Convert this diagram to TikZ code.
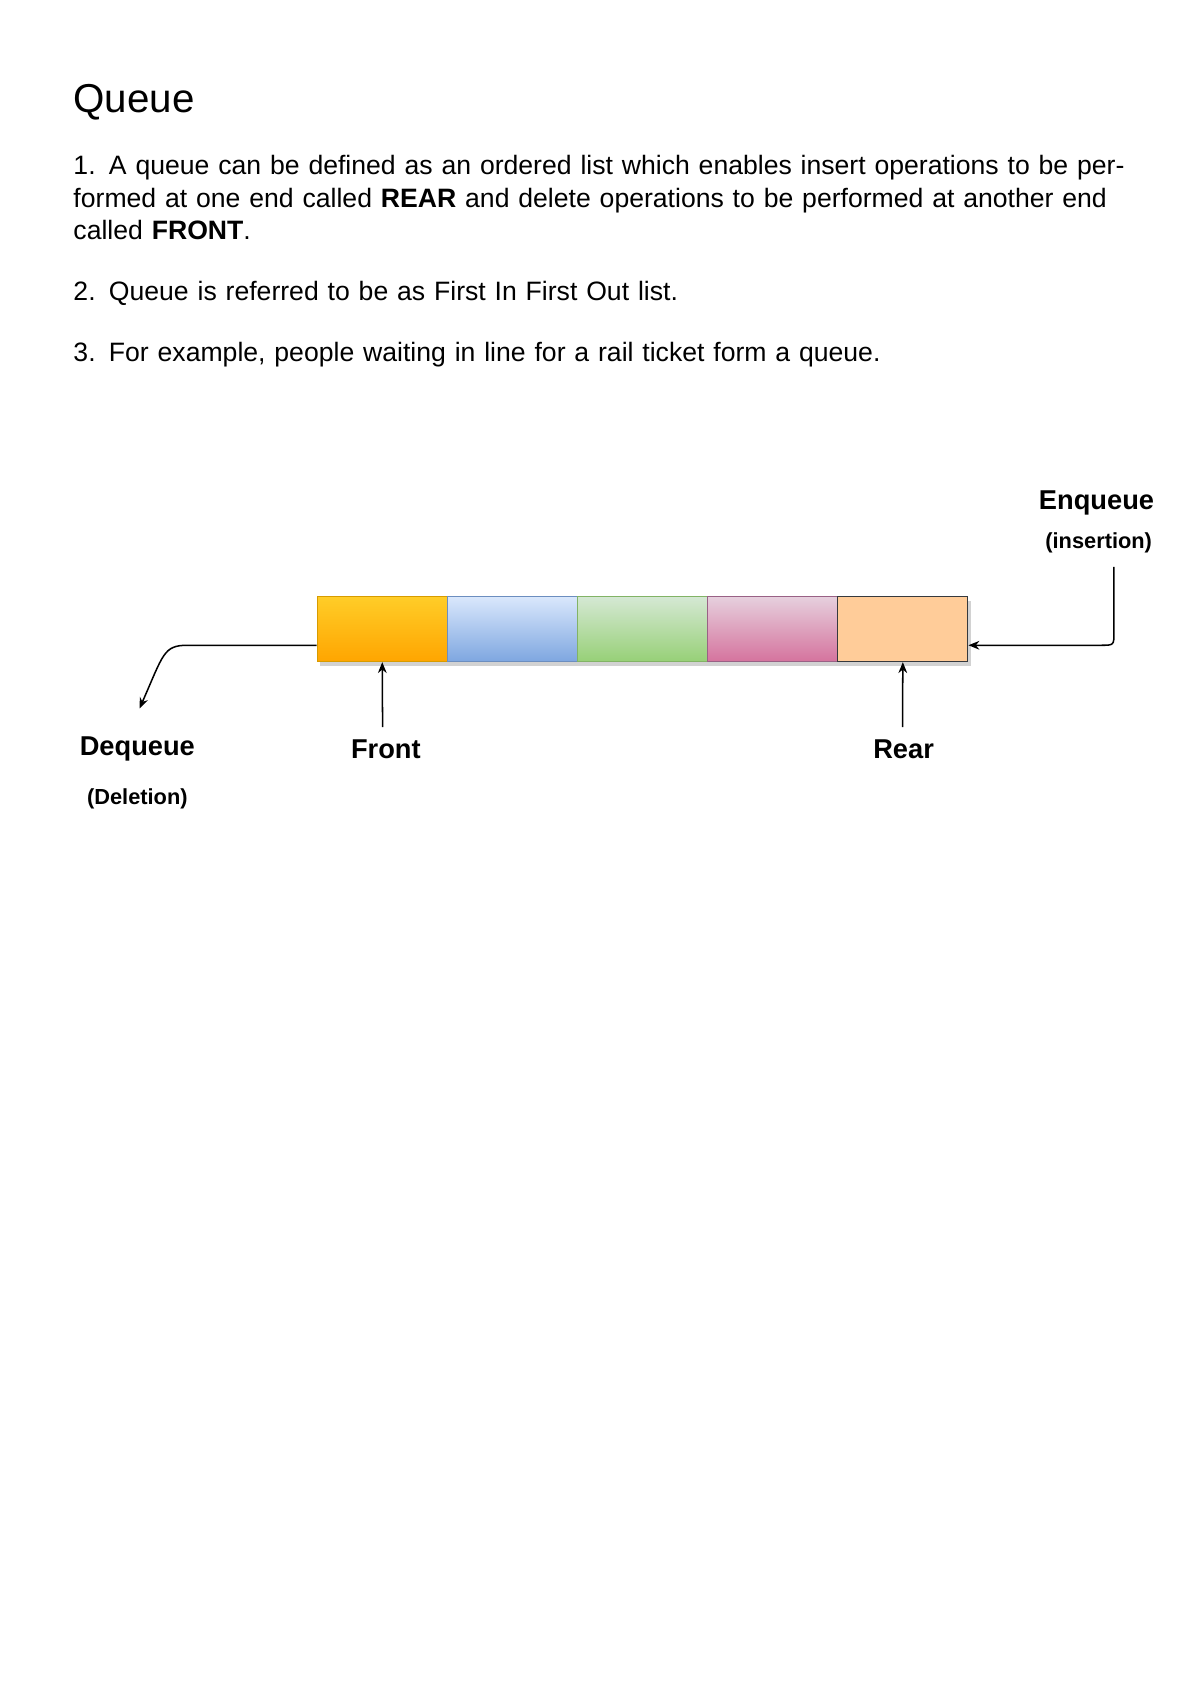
\documentclass[tikz,border=0pt]{standalone}
\usepackage{fontspec}
\setmainfont{Liberation Sans}
\usetikzlibrary{arrows.meta}
\definecolor{oT}{HTML}{FFCD28}\definecolor{oB}{HTML}{FFA500}\definecolor{oD}{HTML}{D79B00}
\definecolor{bT}{HTML}{DAE8FC}\definecolor{bB}{HTML}{7EA6E0}\definecolor{bD}{HTML}{6C8EBF}
\definecolor{gT}{HTML}{D5E8D4}\definecolor{gB}{HTML}{97D077}\definecolor{gD}{HTML}{82B366}
\definecolor{pT}{HTML}{E6D0DE}\definecolor{pB}{HTML}{D5739D}\definecolor{pD}{HTML}{996185}
\definecolor{rF}{HTML}{FFCC99}\definecolor{rD}{HTML}{36393D}
\tikzset{cell/.style={minimum width=59.7pt,minimum height=30pt,inner sep=0pt,line width=0.5pt},
lbl/.style={font=\bfseries\fontsize{12.5}{14}\selectfont,inner sep=0pt},
sub/.style={font=\bfseries\fontsize{10}{12}\selectfont,inner sep=0pt},
arr/.style={-{Stealth[length=5pt,width=4pt]},line width=0.7pt}}
\begin{document}
\begin{tikzpicture}[x=0.5pt,y=-0.5pt]
\useasboundingbox (0,0) rectangle (1100,1556);
\node[anchor=base west,inner sep=0pt,font=\fontsize{18.5}{22}\selectfont] (title) at (67,103) {Queue};
\node[anchor=north west,inner sep=0pt,text width=490pt,align=left,font=\fontsize{12.2}{15}\selectfont] (txt) at (67,142)
{1. A queue can be defined as an ordered list which enables insert operations to be performed at one end called \textbf{REAR} and delete operations to be performed at another end called \textbf{FRONT}.\\[13pt]
2. Queue is referred to be as First In First Out list.\\[13pt]
3. For example, people waiting in line for a rail ticket form a queue.};
% shadow
\fill[gray!35] (294,551) rectangle (891,611);
\node[cell,draw=oD,top color=oT,bottom color=oB] (c1) at (350.7,577) {};
\node[cell,draw=bD,top color=bT,bottom color=bB] (c2) at (470.1,577) {};
\node[cell,draw=gD,top color=gT,bottom color=gB] (c3) at (589.5,577) {};
\node[cell,draw=pD,top color=pT,bottom color=pB] (c4) at (708.9,577) {};
\node[cell,draw=rD,fill=rF] (c5) at (828.3,577) {};
\node[lbl] (deq) at (126,687) {Dequeue};
\node[sub] (del) at (126,733) {(Deletion)};
\node[lbl] (front) at (354,687) {Front};
\node[lbl] (rear) at (829,687) {Rear};
\node[lbl] (enq) at (1006,461) {Enqueue};
\node[sub] (ins) at (1008,498) {(insertion)};
\coordinate (dq) at (128,650);
\draw[arr] (c1.west |- 0,592) -- (172,592) .. controls (150,592) and (150,600) .. (dq);
\draw[arr] (351,667) -- (c1.south);
\draw[arr] (828,667) -- (c5.south);
\coordinate (eq) at (1022,520);
\draw[arr] (eq) -- (1022,580) .. controls (1022,592) .. (1010,592) -- (c5.east |- 0,592);
\end{tikzpicture}
\end{document}
